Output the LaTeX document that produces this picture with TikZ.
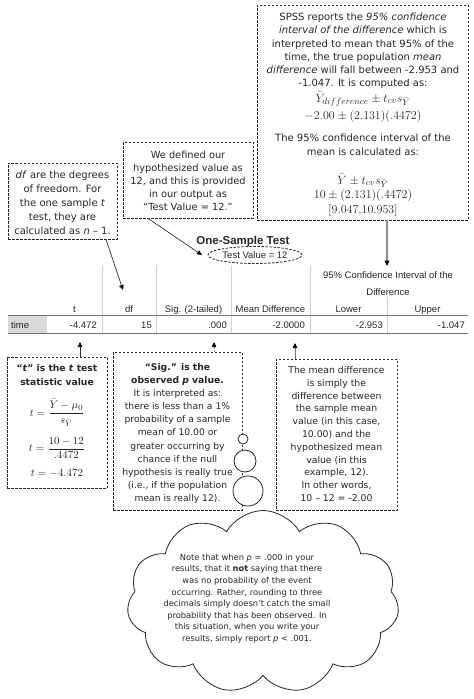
\documentclass[tikz,border=0pt]{standalone}
\usepackage{amsmath}
\usepackage[no-math]{fontspec}
\setmainfont{DejaVu Sans}
\newfontfamily\tabfont{Liberation Sans}
\usetikzlibrary{arrows.meta,shapes.geometric,shapes.symbols}
\newcommand\ftr{\fontsize{10}{13.2}\selectfont}
\newcommand\feq{\fontsize{12.5}{14}\selectfont}
\newcommand\feqt{\fontsize{11}{13}\selectfont}
\newcommand\fdf{\fontsize{10}{13.8}\selectfont}
\newcommand\fmid{\fontsize{9.8}{13}\selectfont}
\newcommand\ftbx{\fontsize{9.2}{14}\selectfont}
\newcommand\fsig{\fontsize{9.2}{13.1}\selectfont}
\newcommand\fmd{\fontsize{9.3}{12.8}\selectfont}
\newcommand\fcl{\fontsize{8.3}{11.6}\selectfont}
\newcommand\ftb{\tabfont\fontsize{9.5}{11}\selectfont}
\tikzset{
  note/.style={align=center, inner sep=0pt, text=black!85, anchor=north},
  noteb/.style={inner sep=0pt, text=black!85, anchor=base},
  callbox/.style={draw=black!85, dash pattern=on 2.5pt off 1.5pt, line width=0.9pt, inner sep=0pt},
  arr/.style={-{Triangle[length=5pt,width=4.5pt,color=black]}, line width=0.7pt, draw=black!80},
  arrg/.style={-{Triangle[length=5.5pt,width=5pt,color=black]}, line width=1.4pt, draw=black!45},
  th/.style={anchor=base, inner sep=0pt, font=\ftb, text=black!85},
  td/.style={anchor=base east, inner sep=0pt, font=\ftb, text=black!85},
  sep/.style={draw=black!18, line width=0.6pt},
  rule/.style={draw=black!55, line width=0.9pt},
  bub/.style={circle, draw=black!85, line width=0.8pt, fill=white, inner sep=0pt}
}
\begin{document}
\begin{tikzpicture}[x=1pt,y=-1pt]
\useasboundingbox (0,0) rectangle (474,699);

% ---- top right box
\node[callbox, minimum width=211pt, minimum height=215pt] (trbox) at (362.5,112.5) {};
\node[note, font=\ftr] (trA) at (363,13) {SPSS reports the \textit{95\% confidence}\\\textit{interval of the difference} which is\\interpreted to mean that 95\% of the\\time, the true population \textit{mean}\\\textit{difference} will fall between -2.953 and\\-1.047.  It is computed as:};
\node[noteb, font=\feq] (trE1) at (363,102) {$\bar{Y}_{difference}\pm t_{cv}s_{\bar{Y}}$};
\node[noteb, font=\feq] (trE2) at (363,119.5) {$-2.00\pm(2.131)(.4472)$};
\node[note, font=\ftr] (trB) at (363,134) {The 95\% confidence interval of the\\mean is calculated as:};
\node[noteb, font=\feq] (trE3) at (363,184) {$\bar{Y}\pm t_{cv}s_{\bar{Y}}$};
\node[noteb, font=\feq] (trE4) at (363,198.5) {$10\pm(2.131)(.4472)$};
\node[noteb, font=\feq] (trE5) at (363,213) {$[9.047{,}10.953]$};

% ---- df box
\node[callbox, minimum width=109pt, minimum height=76pt] (dfbox) at (62.5,201) {};
\node[note, font=\fdf] (dfT) at (62.5,171) {\textit{df} are the degrees\\of freedom.  For\\the one sample \textit{t}\\test, they are\\calculated as \textit{n} – 1.};

% ---- hypothesized value box
\node[callbox, minimum width=130pt, minimum height=76pt] (hybox) at (188,180) {};
\node[note, font=\fmid] (hyT) at (188,151) {We defined our\\hypothesized value as\\12, and this is provided\\in our output as\\“Test Value = 12.”};

% ---- table
\node[noteb, font=\tabfont\fontsize{11.5}{13}\selectfont\bfseries] (title) at (243,244) {One-Sample Test};
\node[ellipse, draw=black!85, dash pattern=on 2.5pt off 1.5pt, line width=0.8pt, minimum width=94pt, minimum height=17pt, inner sep=0pt, font=\ftb, text=black!85] (tv) at (255,255) {Test Value = 12};

\fill[black!15] (8,315) rectangle (47,333);
\foreach \xx in {102,156,231,310} \draw[sep] (\xx,265) -- (\xx,333);
\draw[sep] (387,297) -- (387,333);
\draw[rule] (8,315) -- (468,315);
\draw[rule] (8,333) -- (468,333);

\node[th] (hci1) at (388,278.5) {95\% Confidence Interval of the};
\node[th] (hci2) at (388,295.5) {Difference};
\node[th] (ht) at (74.5,312) {t};
\node[th] (hdf) at (129,312) {df};
\node[th] (hsig) at (193.5,312) {Sig. (2-tailed)};
\node[th] (hmd) at (270.5,312) {Mean Difference};
\node[th] (hlo) at (348.5,312) {Lower};
\node[th] (hup) at (427.5,312) {Upper};

\node[anchor=base west, inner sep=0pt, font=\ftb, text=black!85] (dtime) at (11,328.5) {time};
\node[td] (dt) at (97,328.5) {-4.472};
\node[td] (ddf) at (152,328.5) {15};
\node[td] (dsig) at (227,328.5) {.000};
\node[td] (dmd) at (305,328.5) {-2.0000};
\node[td] (dlo) at (383,328.5) {-2.953};
\node[td] (dup) at (465,328.5) {-1.047};

% ---- t box
\node[callbox, minimum width=100pt, minimum height=131pt] (tbox) at (57,422.5) {};
\node[note, font=\ftbx] (tT) at (57,364.3) {\textbf{“\textit{t}” is the \textit{t} test}\\\textbf{statistic value}};
\node[inner sep=0pt, font=\feqt, text=black!85] (tE1) at (57,413) {$t=\dfrac{\bar{Y}-\mu_0}{s_{\bar{Y}}}$};
\node[inner sep=0pt, font=\feqt, text=black!85] (tE2) at (57,448) {$t=\dfrac{10-12}{.4472}$};
\node[inner sep=0pt, font=\feqt, text=black!85] (tE3) at (57,473) {$t=-4.472$};

% ---- sig box
\node[callbox, minimum width=129pt, minimum height=158pt] (sigbox) at (177.5,431) {};
\node[note, font=\fsig] (sigT) at (177.5,363.3) {\textbf{“Sig.” is the}\\\textbf{observed \textit{p} value.}\\It is interpreted as:\\there is less than a 1\%\\probability of a sample\\mean of 10.00 or\\greater occurring by\\chance if the null\\hypothesis is really true\\(i.e., if the population\\mean is really 12).};

% ---- mean difference box
\node[callbox, minimum width=121pt, minimum height=151pt] (mdbox) at (336.5,434.5) {};
\node[note, font=\fmd] (mdT) at (336.5,366.3) {The mean difference\\is simply the\\difference between\\the sample mean\\value (in this case,\\10.00) and the\\hypothesized mean\\value (in this\\example, 12).\\In other words,\\10 – 12 = -2.00};

% ---- arrows
\coordinate (tipCI) at (387,266);
\coordinate (tipDF) at (123,290);
\coordinate (tipTV) at (202,255);
\coordinate (tipT) at (80,342);
\coordinate (tipSig) at (214,342);
\coordinate (tipMD) at (295,343);
\draw[arrg] (trbox.south -| tipCI) -- (tipCI);
\draw[arr] ([xshift=43.5pt]dfbox.south) -- (tipDF);
\draw[arr] ([xshift=-40pt]hybox.south) -- (tipTV);
\draw[arr] (tbox.north -| tipT) -- (tipT);
\draw[arr, draw=black!45, dash pattern=on 2pt off 1pt] (sigbox.north -| tipSig) -- (tipSig);
\draw[arr, draw=black!55] (mdbox.north -| tipMD) -- (tipMD);

% ---- thought bubbles
\node[bub, minimum size=10pt] (b1) at (243,439) {};
\node[bub, minimum size=22pt] (b2) at (245,461) {};
\node[bub, minimum size=30pt] (b3) at (248,491) {};

% ---- cloud
\node[cloud, cloud puffs=11, cloud puff arc=120, aspect=1.49, draw=black!85, line width=0.8pt, fill=white, minimum width=272pt, minimum height=183pt, inner sep=0pt] (cloud) at (263,602) {};
\node[note, font=\fcl] (clT) at (247,553.7) {Note that when \textit{p} = .000 in your\\results, that it \textbf{not} saying that there\\was no probability of the event\\occurring.  Rather, rounding to three\\decimals simply doesn’t catch the small\\probability that has been observed. In\\this situation, when you write your\\results, simply report \textit{p} < .001.};
\end{tikzpicture}
\end{document}
